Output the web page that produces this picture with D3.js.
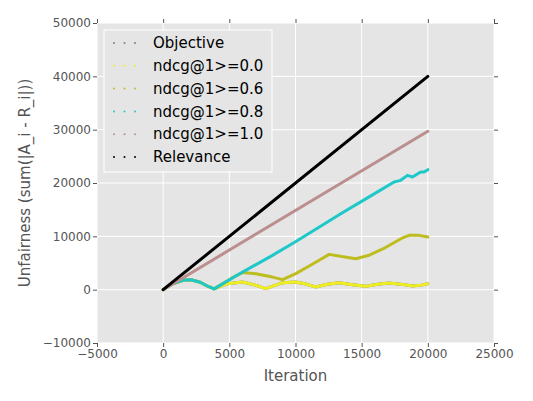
<!DOCTYPE html>
<html>
<head>
<meta charset="utf-8">
<script src="https://cdn.jsdelivr.net/npm/d3@7"></script>
<style>
  body { margin: 0; background: #fff; }
  text { font-family: "DejaVu Sans", sans-serif; }
</style>
</head>
<body>
<div id="wrapper"></div>
<script>
// tick values
const xTicks = [-5000, 0, 5000, 10000, 15000, 20000, 25000]
const yTicks = [-10000, 0, 10000, 20000, 30000, 40000, 50000]

// series (iteration, unfairness)
const relevance = [[0, 0], [20000, 40000]]
const ndcg10 = [[0, 0], [20000, 29700]]
const ndcg08 = [
  [0, 0], [700, 1100], [1500, 1750], [2100, 1850], [2800, 1400], [3400, 600], [3850, 150],
  [6000, 3300], [8260, 6430], [10000, 9000], [13420, 14250], [15500, 17300],
  [17450, 20180], [17950, 20500], [18460, 21430], [18840, 21120], [19460, 22050],
  [19710, 22050], [20000, 22500]
]
const ndcg06 = [
  [0, 0], [700, 1100], [1500, 1750], [2100, 1850], [2800, 1400], [3400, 600], [3850, 150],
  [5200, 2200], [6000, 3200], [7000, 3000], [8260, 2360], [9020, 1875],
  [10020, 3000], [11300, 4800], [12540, 6620], [13500, 6200], [14550, 5810],
  [15500, 6400], [16800, 7900], [18000, 9600], [18580, 10180], [19340, 10180], [20000, 9860]
]
const ndcg00 = [
  [0, 0], [700, 1100], [1500, 1750], [2100, 1850], [2800, 1400], [3400, 600], [3850, 150],
  [4860, 1125], [6000, 1430], [6900, 900], [7760, 190], [9020, 1310], [10020, 1430],
  [10800, 1050], [11530, 490], [12400, 1000], [13290, 1310], [14300, 940], [15310, 620],
  [16200, 1000], [17070, 1240], [18080, 990], [18840, 680], [19500, 850], [20000, 1125]
]
// objective lies under the other curves
const objective = ndcg00

const names = ["Objective", "ndcg@1>=0.0", "ndcg@1>=0.6", "ndcg@1>=0.8", "ndcg@1>=1.0", "Relevance"]
const colors = ["#7f7f7f", "#eeee22", "#bdbd1f", "#1ec8c8", "#bc8f8f", "#000000"]
const seriesList = [objective, ndcg00, ndcg06, ndcg08, ndcg10, relevance]

const dimensions = {
  width: 533,
  height: 401,
  margin: { top: 23, right: 39, bottom: 58, left: 97 }
}
dimensions.boundedWidth = dimensions.width - dimensions.margin.left - dimensions.margin.right
dimensions.boundedHeight = dimensions.height - dimensions.margin.top - dimensions.margin.bottom

const wrapper = d3.select("#wrapper")
  .append("svg")
    .attr("width", dimensions.width)
    .attr("height", dimensions.height)

const bounds = wrapper.append("g")
  .attr("transform", `translate(${dimensions.margin.left},${dimensions.margin.top})`)

const xScale = d3.scaleLinear()
  .domain([-5000, 25000])
  .range([0, dimensions.boundedWidth])

const yScale = d3.scaleLinear()
  .domain([-10000, 50000])
  .range([dimensions.boundedHeight, 0])

// background
bounds.append("rect")
  .attr("width", dimensions.boundedWidth)
  .attr("height", dimensions.boundedHeight)
  .attr("fill", "#e5e5e5")

// grid
bounds.append("g").selectAll("line")
  .data(xTicks)
  .join("line")
    .attr("x1", d => xScale(d)).attr("x2", d => xScale(d))
    .attr("y1", 0).attr("y2", dimensions.boundedHeight)
    .attr("stroke", "#fff").attr("stroke-width", 1)

bounds.append("g").selectAll("line")
  .data(yTicks)
  .join("line")
    .attr("y1", d => yScale(d)).attr("y2", d => yScale(d))
    .attr("x1", 0).attr("x2", dimensions.boundedWidth)
    .attr("stroke", "#fff").attr("stroke-width", 1)

// axes (ticks on all four sides)
const styleAxis = g => {
  g.select(".domain").remove()
  g.selectAll(".tick line").attr("stroke", "#555")
  g.selectAll(".tick text")
    .attr("fill", "#555")
    .style("font-size", "12px")
    .style("font-family", "DejaVu Sans, sans-serif")
}

bounds.append("g")
  .attr("transform", `translate(0,${dimensions.boundedHeight})`)
  .call(d3.axisBottom(xScale).tickValues(xTicks).tickSize(4).tickPadding(2).tickFormat(d3.format("d")))
  .call(styleAxis)

bounds.append("g")
  .call(d3.axisTop(xScale).tickValues(xTicks).tickSize(4).tickFormat(""))
  .call(styleAxis)

bounds.append("g")
  .call(d3.axisLeft(yScale).tickValues(yTicks).tickSize(4).tickPadding(2).tickFormat(d3.format("d")))
  .call(styleAxis)

bounds.append("g")
  .attr("transform", `translate(${dimensions.boundedWidth},0)`)
  .call(d3.axisRight(yScale).tickValues(yTicks).tickSize(4).tickFormat(""))
  .call(styleAxis)

// replace hyphen with minus sign like matplotlib
bounds.selectAll(".tick text").text(function () {
  return this.textContent.replace("-", "\u2212").replace("\u2212", "\u2212")
})

// lines
const lineGenerator = d3.line()
  .x(d => xScale(d[0]))
  .y(d => yScale(d[1]))

bounds.append("g").selectAll("path")
  .data(seriesList)
  .join("path")
    .attr("d", lineGenerator)
    .attr("fill", "none")
    .attr("stroke", (d, i) => colors[i])
    .attr("stroke-width", 3)
    .attr("stroke-linejoin", "round")
    .attr("stroke-linecap", "round")

// legend
const legend = bounds.append("g")
  .attr("transform", "translate(7,7)")

legend.append("rect")
  .attr("width", 168)
  .attr("height", 142)
  .attr("fill", "#e5e5e5")
  .attr("stroke", "#fff")
  .attr("stroke-width", 1)

const legendItems = legend.selectAll(".item")
  .data(names)
  .join("g")
    .attr("class", "item")
    .attr("transform", (d, i) => `translate(0,${13 + i * 22.8})`)

legendItems.selectAll("circle")
  .data((d, i) => [0, 1, 2].map(k => ({ k, i })))
  .join("circle")
    .attr("cx", d => 10 + d.k * 10.5)
    .attr("cy", 0)
    .attr("r", 1)
    .attr("fill", d => colors[d.i])

legendItems.append("text")
  .attr("x", 49)
  .attr("y", 0)
  .attr("dy", "0.35em")
  .attr("fill", "#000")
  .style("font-size", "15px")
  .text(d => d)

// axis labels
wrapper.append("text")
  .attr("x", dimensions.margin.left + dimensions.boundedWidth / 2)
  .attr("y", 381)
  .attr("text-anchor", "middle")
  .attr("fill", "#555")
  .style("font-size", "15px")
  .text("Iteration")

wrapper.append("text")
  .attr("transform", `translate(30,${dimensions.margin.top + dimensions.boundedHeight / 2}) rotate(-90)`)
  .attr("text-anchor", "middle")
  .attr("fill", "#555")
  .style("font-size", "15px")
  .text("Unfairness (sum(|A_i - R_i|))")
</script>
</body>
</html>
